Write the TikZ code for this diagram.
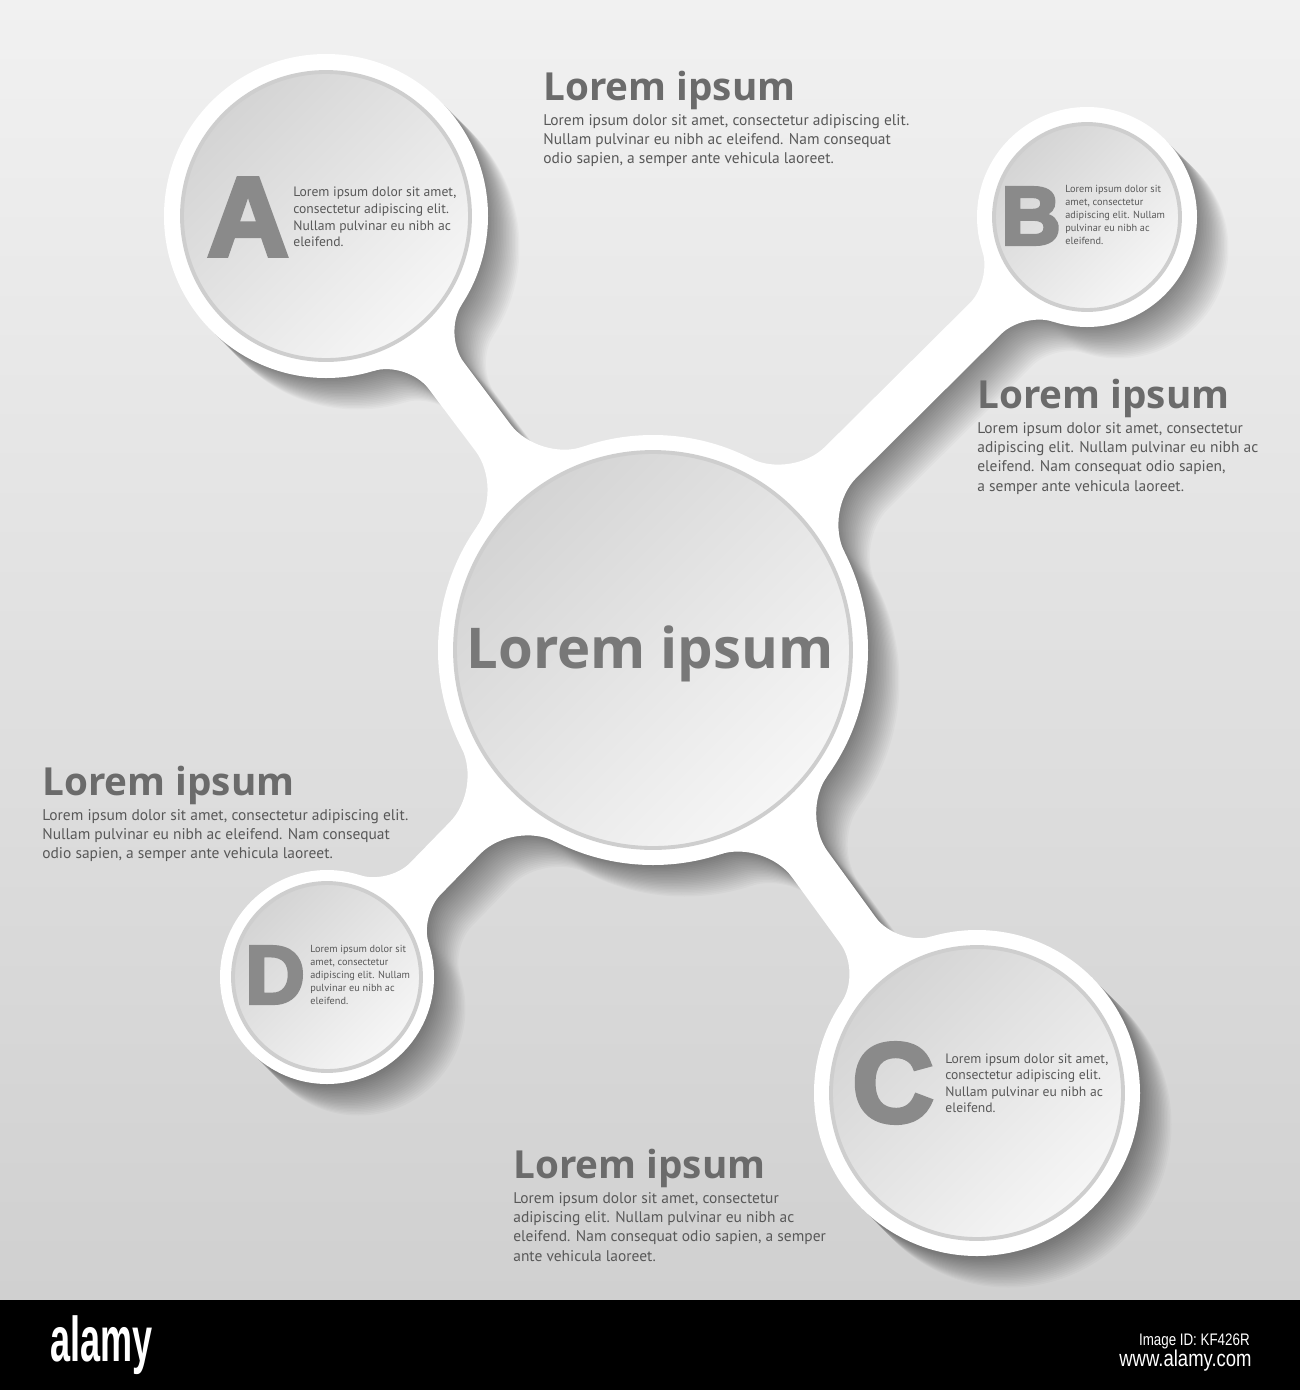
\documentclass[tikz,border=0pt]{standalone}
\usepackage{fontspec}
\setmainfont{PT Sans}
\newfontfamily\headfont{Open Sans}
\newfontfamily\letterfont[FakeBold=4]{Liberation Sans}
\newfontfamily\footerfont{Liberation Sans}
\usetikzlibrary{calc}
\definecolor{headgray}{RGB}{107,107,107}
\definecolor{centergray}{RGB}{120,120,120}
\definecolor{bodygray}{RGB}{88,88,88}
\definecolor{lettergray}{RGB}{138,138,138}
\definecolor{diskdark}{RGB}{212,212,212}
\definecolor{disklight}{RGB}{246,246,246}
\definecolor{rimgray}{RGB}{206,206,206}
\definecolor{bgtop}{RGB}{241,241,241}
\definecolor{bgbottom}{RGB}{208,208,208}
\newcommand{\halfw}{22}
\newcommand{\drawarm}[8][]{%
  \pgfmathsetmacro\ta{(#3*sin(#6)-\halfw)/cos(#6)}%
  \pgfmathsetmacro\sa{#3*cos(#6)+\ta*sin(#6)+\ta}%
  \pgfmathsetmacro\ca{0.55*\ta}%
  \pgfmathsetmacro\tb{(#5*sin(#7)-\halfw)/cos(#7)}%
  \pgfmathsetmacro\sb{#5*cos(#7)+\tb*sin(#7)+\tb}%
  \pgfmathsetmacro\cb{0.55*\tb}%
  \fill[#1] ($(#2)+(#8+#6:#3)$) .. controls +(#8+#6-90:\ca) and +(#8+180:\ca) .. ($(#2)+(#8:\sa)+(#8+90:\halfw)$)
    -- ($(#4)+(#8+180:\sb)+(#8+90:\halfw)$) .. controls +(#8:\cb) and +(#8+270-#7:\cb) .. ($(#4)+(#8+180-#7:#5)$)
    -- ($(#4)+(#8+180+#7:#5)$) .. controls +(#8+90+#7:\cb) and +(#8:\cb) .. ($(#4)+(#8+180:\sb)+(#8-90:\halfw)$)
    -- ($(#2)+(#8:\sa)+(#8-90:\halfw)$) .. controls +(#8+180:\ca) and +(#8-#6+90:\ca) .. ($(#2)+(#8-#6:#3)$)
    -- cycle;%
}
\newcommand{\molecule}[1]{%
  \drawarm[#1]{A}{162}{hub}{215}{20}{18}{53}
  \drawarm[#1]{B}{110}{hub}{215}{27}{18}{135}
  \drawarm[#1]{hub}{215}{C}{163}{18}{20}{53.8}
  \drawarm[#1]{hub}{215}{D}{107}{18}{27}{135}
  \foreach \name/\rad in {A/162, B/110, C/163, D/107, hub/215}
      \fill[#1] (\name) circle[radius=\rad*0.02cm];%
}

\begin{document}
\begin{tikzpicture}[x=0.02cm, y=-0.02cm,
    heading/.style={font=\headfont\bfseries\fontsize{22}{26}\selectfont, text=headgray, anchor=base west, inner sep=0pt},
    body/.style={font=\fontsize{8.8}{11}\selectfont, text=bodygray, align=left, anchor=north west, inner sep=0pt},
    smallbody/.style={body, font=\fontsize{7.75}{9.4}\selectfont},
    tinybody/.style={body, font=\fontsize{5.85}{7.4}\selectfont},
    letter/.style={font=\letterfont\bfseries\fontsize{64}{64}\selectfont, text=lettergray, inner sep=0pt},
    smallletter/.style={letter, font=\letterfont\bfseries\fontsize{47}{47}\selectfont},
    paper/.style={fill=white},
    shadowlayer/.style={fill=black},
    disk/.style={draw=rimgray, line width=2.2pt, top color=diskdark, bottom color=disklight, shading angle=45},
    footer/.style={text=white, inner sep=0pt}]
    \useasboundingbox (0,0) rectangle (1300,1390);
    \shade[top color=bgtop, bottom color=bgbottom] (0,0) rectangle (1300,1300);
    \fill[black] (0,1300) rectangle (1300,1390);

    \coordinate (hub) at (653,650);
    \coordinate (A) at (326,216);
    \coordinate (B) at (1087,217);
    \coordinate (C) at (977,1093);
    \coordinate (D) at (327,977);

    \foreach \k in {0.03,0.06,...,0.63} {
        \begin{scope}[transform canvas={shift={(\k cm,-\k cm)}}]
            \begin{scope}[transparency group, opacity=0.024]
                \molecule{shadowlayer}
            \end{scope}
        \end{scope}
    }
    \molecule{paper}

    \foreach \name/\rad in {A/144, B/93, C/146, D/94, hub/198}
        \shade[disk] (\name) circle[radius=\rad*0.02cm];

    \node (mainLabel) [font=\headfont\bfseries\fontsize{32}{36}\selectfont, text=centergray, anchor=base, inner sep=0pt] at (650,668) {Lorem ipsum};

    \node (letterA) [letter] at (248,217) {A};
    \node (textA) [smallbody] at (293,187) {Lorem ipsum dolor sit amet,\\consectetur adipiscing elit.\\Nullam pulvinar eu nibh ac\\eleifend.};
    \node (letterB) [smallletter] at (1031,216) {B};
    \node (textB) [tinybody] at (1065,185) {Lorem ipsum dolor sit\\amet, consectetur\\adipiscing elit. Nullam\\pulvinar eu nibh ac\\eleifend.};
    \node (letterC) [letter] at (893,1083) {C};
    \node (textC) [smallbody] at (945,1053) {Lorem ipsum dolor sit amet,\\consectetur adipiscing elit.\\Nullam pulvinar eu nibh ac\\eleifend.};
    \node (letterD) [smallletter] at (275,975) {D};
    \node (textD) [tinybody] at (310,945) {Lorem ipsum dolor sit\\amet, consectetur\\adipiscing elit. Nullam\\pulvinar eu nibh ac\\eleifend.};

    \node (topHead) [heading] at (543,100) {Lorem ipsum};
    \node (topBody) [body] at (543,114) {Lorem ipsum dolor sit amet, consectetur adipiscing elit.\\Nullam pulvinar eu nibh ac eleifend. Nam consequat\\odio sapien, a semper ante vehicula laoreet.};
    \node (rightHead) [heading] at (977,408) {Lorem ipsum};
    \node (rightBody) [body] at (977,422) {Lorem ipsum dolor sit amet, consectetur\\adipiscing elit. Nullam pulvinar eu nibh ac\\eleifend. Nam consequat odio sapien,\\a semper ante vehicula laoreet.};
    \node (leftHead) [heading] at (42,795) {Lorem ipsum};
    \node (leftBody) [body] at (42,809) {Lorem ipsum dolor sit amet, consectetur adipiscing elit.\\Nullam pulvinar eu nibh ac eleifend. Nam consequat\\odio sapien, a semper ante vehicula laoreet.};
    \node (bottomHead) [heading] at (513,1178) {Lorem ipsum};
    \node (bottomBody) [body] at (513,1192) {Lorem ipsum dolor sit amet, consectetur\\adipiscing elit. Nullam pulvinar eu nibh ac\\eleifend. Nam consequat odio sapien, a semper\\ante vehicula laoreet.};

    \node (logo) [footer, anchor=base west, font=\footerfont\bfseries\fontsize{36}{36}\selectfont] at (50,1361) {\scalebox{0.57}[1]{alamy}};
    \node (imageId) [footer, anchor=base east, font=\footerfont\fontsize{9.5}{10}\selectfont] at (1250,1345) {\scalebox{0.8}[1]{Image ID: KF426R}};
    \node (site) [footer, anchor=base east, font=\footerfont\fontsize{13}{14}\selectfont] at (1252,1366) {\scalebox{0.81}[1]{www.alamy.com}};
\end{tikzpicture}
\end{document}
